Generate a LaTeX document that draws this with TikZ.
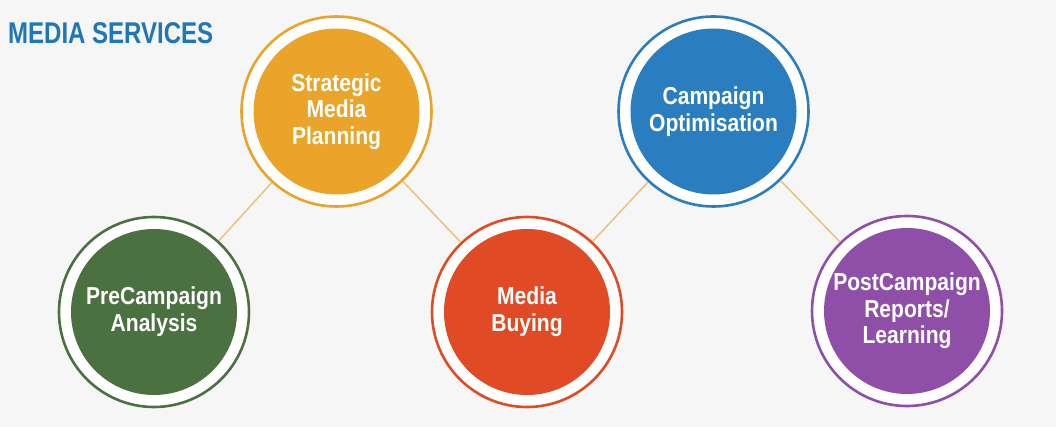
\documentclass[tikz,border=0pt]{standalone}
\usepackage{fontspec}
\newfontfamily\titlefont{Liberation Sans}[FakeStretch=0.80]
\newfontfamily\circfont{Liberation Sans}[FakeStretch=0.86]
\definecolor{titleblue}{HTML}{1F77B9}
\definecolor{planorange}{HTML}{E9A429}
\definecolor{optblue}{HTML}{2A7EC0}
\definecolor{pregreen}{HTML}{4B7141}
\definecolor{buyred}{HTML}{E04B26}
\definecolor{postpurple}{HTML}{8F4FA9}
\definecolor{linkgold}{HTML}{EBC27C}
\definecolor{bggray}{HTML}{F6F6F6}
\tikzset{
  ring/.style={circle, draw=#1, line width=2.6pt, fill=white, inner sep=0pt, minimum size=190pt},
  disc/.style={circle, fill=#1, inner sep=0pt, minimum size=166pt, text=white, align=center,
    font=\circfont\bfseries\fontsize{24.5}{26.7}\selectfont},
  link/.style={draw=linkgold, line width=1.5pt}
}
\begin{document}
\begin{tikzpicture}[x=1pt, y=-1pt]
% Background and page size
\fill[bggray] (0,0) rectangle (1056,427);
\useasboundingbox (0,0) rectangle (1056,427);

% Title
\node[anchor=base west, inner sep=0pt, text=titleblue, font=\titlefont\bfseries\fontsize{30}{30}\selectfont] (title) at (8,43.3) {MEDIA SERVICES};

% Outer rings
\node[ring=pregreen] (pre) at (154,312) {};
\node[ring=planorange] (plan) at (336.5,111.5) {};
\node[ring=buyred] (buy) at (527,312) {};
\node[ring=optblue] (opt) at (713.5,111.5) {};
\node[ring=postpurple] (post) at (907,311) {};

% Filled discs with labels
\node[disc=pregreen] (pretext) at (pre) {PreCampaign\\Analysis};
\node[disc=planorange] (plantext) at (plan) {Strategic\\Media\\Planning};
\node[disc=buyred] (buytext) at (buy) {Media\\Buying};
\node[disc=optblue] (opttext) at (opt) {Campaign\\Optimisation};
\node[disc=postpurple] (posttext) at (post) {PostCampaign\\Reports/\\Learning};

% Links between the rings
\draw[link] (pre) -- (plan);
\draw[link] (plan) -- (buy);
\draw[link] (buy) -- (opt);
\draw[link] (opt) -- (post);
\end{tikzpicture}
\end{document}
